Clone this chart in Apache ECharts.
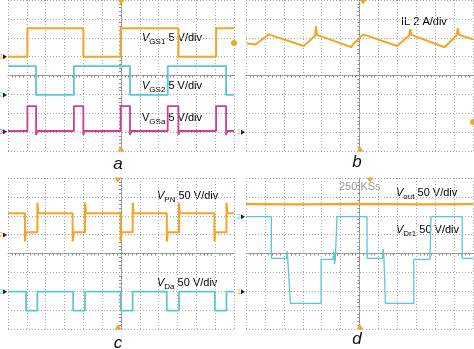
<!DOCTYPE html>
<html><head><meta charset="utf-8">
<script src="https://cdn.jsdelivr.net/npm/echarts@6/dist/echarts.min.js"></script>
<style>html,body{margin:0;padding:0;background:#fff}#c{width:474px;height:349px}</style>
</head><body><div id="c"></div><script>
// Values in oscilloscope divisions (x: -6..6, y: -4..4, centre = 0,0)
const vgs1 = [[-6,1.0],[-4.97,1.0],[-4.97,2.5],[-2.0,2.5],[-2.0,1.0],[-0.02,1.0],[-0.02,2.5],[3.05,2.5],[3.05,1.0],[5.05,1.0],[5.05,2.5],[6,2.5]];
const vgs2 = [[-6,0.5],[-4.51,0.5],[-4.51,-1.03],[-2.5,-1.03],[-2.5,0.5],[0.48,0.5],[0.48,-1.03],[2.48,-1.03],[2.48,0.5],[5.58,0.5],[5.58,-1.03],[6,-1.03]];
const vgsa = [[-6,-2.94],[-4.97,-2.94],[-4.97,-1.62],[-4.51,-1.62],[-4.51,-3.15],[-4.45,-2.94],[-2.5,-2.94],[-2.5,-1.62],[-2.0,-1.62],[-2.0,-3.15],[-1.94,-2.94],[-0.02,-2.94],[-0.02,-1.62],[0.48,-1.62],[0.48,-3.15],[0.54,-2.94],[2.48,-2.94],[2.48,-1.62],[3.05,-1.62],[3.05,-3.15],[3.11,-2.94],[5.05,-2.94],[5.05,-1.62],[5.58,-1.62],[5.58,-3.15],[5.64,-2.94],[6,-2.94]];
const il = [[-5.95,1.7],[-5.5,1.64],[-4.8,2.18],[-2.95,1.56],[-2.35,2.1],[-2.3,2.62],[-2.25,2.15],[-0.42,1.5],[-0.38,1.62],[0.19,2.18],[1.99,1.56],[2.62,2.12],[2.69,2.45],[2.74,2.15],[4.5,1.5],[5.12,2.12],[5.2,2.5],[5.26,2.15],[6,1.92]];
const vpn = [[-6,2.13],[-5.1,2.13],[-5.1,0.63],[-5.05,1.12],[-4.44,1.12],[-4.44,2.69],[-4.39,2.13],[-2.57,2.13],[-2.57,0.63],[-2.52,1.12],[-1.91,1.12],[-1.91,2.69],[-1.86,2.13],[-0.02,2.13],[-0.02,0.63],[0.03,1.12],[0.62,1.12],[0.62,2.69],[0.67,2.13],[2.43,2.13],[2.43,0.63],[2.48,1.12],[3.08,1.12],[3.08,2.69],[3.13,2.13],[4.96,2.13],[4.96,0.63],[5.01,1.12],[5.6,1.12],[5.6,2.69],[5.65,2.13],[6,2.13]];
const vda = [[-6,-2.02],[-5.04,-2.02],[-5.04,-3.03],[-4.44,-3.03],[-4.44,-2.02],[-2.54,-2.02],[-2.54,-3.03],[-1.91,-3.03],[-1.91,-2.02],[-0.02,-2.02],[-0.02,-3.03],[0.62,-3.03],[0.62,-2.02],[2.43,-2.02],[2.43,-3.03],[3.08,-3.03],[3.08,-2.02],[4.98,-2.02],[4.98,-3.03],[5.6,-3.03],[5.6,-2.02],[6,-2.02]];
const vout = [[-6,2.62],[-3,2.6],[0,2.63],[3,2.6],[6,2.62]];
const vdr1 = [[-6,1.95],[-4.66,1.95],[-4.66,-0.26],[-3.85,-0.26],[-3.83,0.13],[-3.8,-0.2],[-3.65,-2.64],[-2.03,-2.64],[-2.03,-0.31],[-1.4,-0.31],[-1.36,0.1],[-1.32,-0.57],[-1.28,-0.3],[-1.19,1.95],[0.4,1.95],[0.4,-0.26],[1.22,-0.26],[1.25,0.24],[1.29,-0.2],[1.37,-2.64],[2.87,-2.64],[2.87,-0.31],[3.72,-0.31],[3.78,1.95],[5.43,1.95],[5.43,-0.26],[6,-0.26]];
// channel ground reference levels [label, level]
const refA = [['1',1.0],['2',-1.03],['3',-2.98]];
const refB = [['1',-3.01]];
const refC = [['2',0.98],['2',-2.02]];
const refD = [['2',1.95],['1',-2.02]];
// trigger position (x) per panel: [top, bottom]; trigger level (right edge) or null
const trigX = [[0,0],[0.19,0.03],[-0.16,-0.16],[0.56,0.03]];
const trigLevel = [1.72, -2.46, null, null];

const ORANGE='#F2A526', CYAN='#5CC5D6', MAGENTA='#D43C92';
const FONT='"Liberation Sans", Arial, sans-serif';
const grids = [
  {left:8, top:0, width:226, height:151},
  {left:246, top:0, width:227, height:151},
  {left:8, top:178, width:226, height:151},
  {left:246, top:178, width:227, height:151}
];
function ax(i, lim){
  return {gridIndex:i, type:'value', min:-lim, max:lim, interval:1,
    axisLabel:{show:false}, axisTick:{show:false},
    minorTick:{show:true, splitNumber:5, length:2, lineStyle:{color:'#8a8a8a'}},
    axisLine:{show:true, onZero:true, lineStyle:{color:'#8a8a8a', type:[1,1]}},
    splitLine:{show:true, lineStyle:{color:'#a8a8a8', type:[1,2]}}};
}
function refMarks(refs, colors, trig, lvl){
  const d = refs.map((r,k)=>({coord:[-6,r[1]], symbol:'triangle', symbolRotate:-90, symbolSize:[5,4], symbolOffset:[-3,0],
    itemStyle:{color:'#222'}, label:{show:true, formatter:r[0], position:'left', distance:0, fontSize:7, color:colors[k]}}));
  d.push({coord:[trig[0],4], symbol:'triangle', symbolRotate:180, symbolSize:[7,5], symbolOffset:[0,2], itemStyle:{color:ORANGE}, label:{show:false}});
  d.push({coord:[trig[1],-4], symbol:'triangle', symbolSize:[7,5], symbolOffset:[0,-2], itemStyle:{color:ORANGE}, label:{show:false}});
  if (lvl !== null) d.push({coord:[6,lvl], symbol:'circle', symbolSize:6, itemStyle:{color:ORANGE}, label:{show:false}});
  return {silent:true, animation:false, data:d};
}
function line(i, data, color, w, mp){
  const s = {type:'line', xAxisIndex:i, yAxisIndex:i, data:data, showSymbol:false, symbol:'none',
    lineStyle:{color:color, width:w}, itemStyle:{color:color}, animation:false};
  if (mp) s.markPoint = mp;
  return s;
}
const rich = {
  i:{fontStyle:'italic', fontSize:11, fontFamily:FONT, color:'#111', verticalAlign:'middle', lineHeight:16},
  u:{fontSize:11, fontFamily:FONT, color:'#111', verticalAlign:'middle', lineHeight:16},
  s:{fontSize:8, fontFamily:FONT, color:'#111', verticalAlign:'bottom', lineHeight:16}
};
function lbl(x, y, t){ return {type:'text', left:x, top:y, silent:true, style:{text:t, rich:rich}}; }
function cap(x, y, t){ return {type:'text', x:x, y:y, silent:true, style:{text:t, font:'italic 17px '+FONT, fill:'#111', align:'center', verticalAlign:'middle'}}; }

const option = {
  backgroundColor:'#fff', animation:false,
  grid: grids,
  xAxis: [ax(0,6),ax(1,6),ax(2,6),ax(3,6)],
  yAxis: [ax(0,4),ax(1,4),ax(2,4),ax(3,4)],
  series: [
    line(0, vgs1, ORANGE, 2, refMarks(refA,[ORANGE,CYAN,MAGENTA],trigX[0],trigLevel[0])),
    line(0, vgs2, CYAN, 1.8),
    line(0, vgsa, MAGENTA, 1.8),
    line(1, il, ORANGE, 2, refMarks(refB,[ORANGE],trigX[1],trigLevel[1])),
    line(2, vpn, ORANGE, 2, refMarks(refC,[ORANGE,CYAN],trigX[2],trigLevel[2])),
    line(2, vda, CYAN, 1.8),
    line(3, vout, ORANGE, 2.2, refMarks(refD,[CYAN,ORANGE],trigX[3],trigLevel[3])),
    line(3, vdr1, CYAN, 1.3)
  ],
  graphic: [
    lbl(142, 32, '{i|V}{s|GS1}{u| 5 V/div}'),
    lbl(142, 80, '{i|V}{s|GS2}{u| 5 V/div}'),
    lbl(142, 112, '{u|V}{s|GSa}{u| 5 V/div}'),
    lbl(401, 16, '{u|IL 2 A/div}'),
    lbl(157, 190, '{i|V}{s|PN}{u| 50 V/div}'),
    lbl(157, 277, '{i|V}{s|Da}{u| 50 V/div}'),
    {type:'text', left:339, top:181, silent:true, style:{text:'250 KSs', font:'11px '+FONT, fill:'#9a9a9a'}},
    lbl(396, 187, '{i|V}{s|out}{u| 50 V/div}'),
    lbl(396, 224, '{i|V}{s|Dr1}{u| 50 V/div}'),
    cap(118, 164, 'a'),
    cap(357, 162, 'b'),
    cap(118, 343, 'c'),
    cap(357, 339, 'd')
  ]
};
echarts.init(document.getElementById('c'), null, {renderer:'canvas'}).setOption(option);
</script></body></html>
